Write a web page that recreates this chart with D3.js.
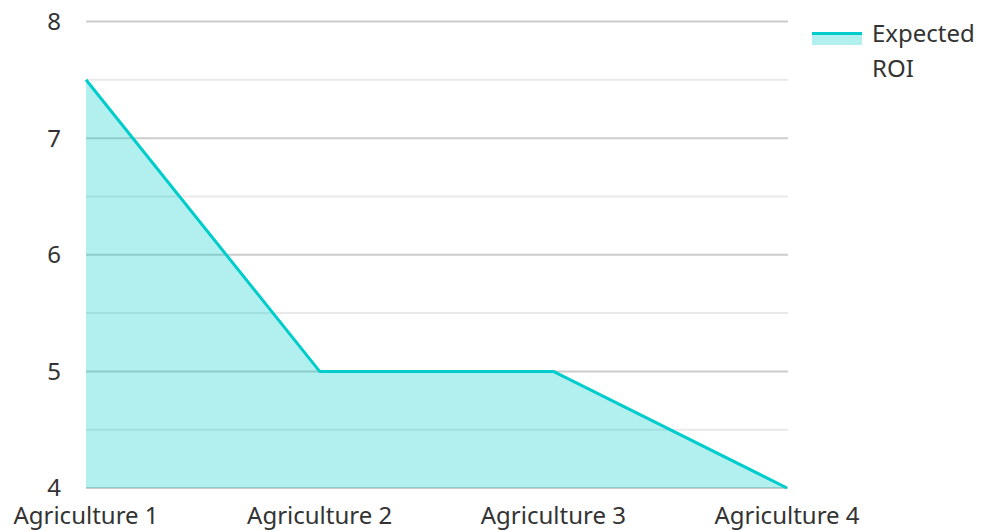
<!DOCTYPE html>
<html>
<head>
<meta charset="utf-8">
<script src="https://cdn.jsdelivr.net/npm/d3@7"></script>
<style>
  body { margin: 0; background: #fff; }
  text { font-family: "Noto Sans", "Open Sans", sans-serif; fill: #333; }
</style>
</head>
<body>
<svg id="chart" width="981" height="531"></svg>
<script>
var categories = ['Agriculture 1', 'Agriculture 2', 'Agriculture 3', 'Agriculture 4']
var roi = [7.5, 5, 5, 4]
var seriesName = ['Expected', 'ROI']
var yTicks = [4, 5, 6, 7, 8]

var svg = d3.select('#chart')
var plotLeft = 86, plotRight = 787, plotTop = 21.5, plotBottom = 488

var x = d3.scalePoint().domain(categories).range([plotLeft, plotRight])
var y = d3.scaleLinear().domain([4, 8]).range([plotBottom, plotTop])

// grid: integer lines darker, half steps lighter
var grid = d3.range(4, 8.01, 0.5)
svg.append('g').selectAll('line').data(grid).enter().append('line')
  .attr('x1', plotLeft).attr('x2', plotRight + 1)
  .attr('y1', function(d){ return y(d) }).attr('y2', function(d){ return y(d) })
  .attr('stroke', function(d){ return d % 1 == 0 ? '#cccccc' : '#e9e9e9' })
  .attr('stroke-width', 2)

svg.append('g').selectAll('text').data(yTicks).enter().append('text')
  .attr('x', 61).attr('y', function(d){ return y(d) })
  .attr('dy', '0.35em')
  .attr('text-anchor', 'end')
  .attr('font-size', 24)
  .text(function(d){ return d })

svg.append('g').selectAll('text').data(categories).enter().append('text')
  .attr('x', function(d){ return x(d) }).attr('y', 524)
  .attr('text-anchor', 'middle')
  .attr('font-size', 24)
  .text(function(d){ return d })

var area = d3.area()
  .x(function(d, i){ return x(categories[i]) })
  .y0(y(4))
  .y1(function(d){ return y(d) })
var line = d3.line()
  .x(function(d, i){ return x(categories[i]) })
  .y(function(d){ return y(d) })

svg.append('path').datum(roi).attr('d', area)
  .attr('fill', 'rgb(0,204,204)').attr('fill-opacity', 0.3)
svg.append('path').datum(roi).attr('d', line)
  .attr('fill', 'none').attr('stroke', '#00cccc').attr('stroke-width', 3)
  .attr('stroke-linejoin', 'round')

// legend
var lg = svg.append('g')
lg.append('rect').attr('x', 812).attr('y', 32).attr('width', 50).attr('height', 13)
  .attr('fill', 'rgb(0,204,204)').attr('fill-opacity', 0.3)
lg.append('line').attr('x1', 812).attr('x2', 862).attr('y1', 33.5).attr('y2', 33.5)
  .attr('stroke', '#00cccc').attr('stroke-width', 3)
lg.selectAll('text').data(seriesName).enter().append('text')
  .attr('x', 872).attr('y', function(d, i){ return 42 + i * 35 })
  .attr('font-size', 24)
  .text(function(d){ return d })
</script>
</body>
</html>
